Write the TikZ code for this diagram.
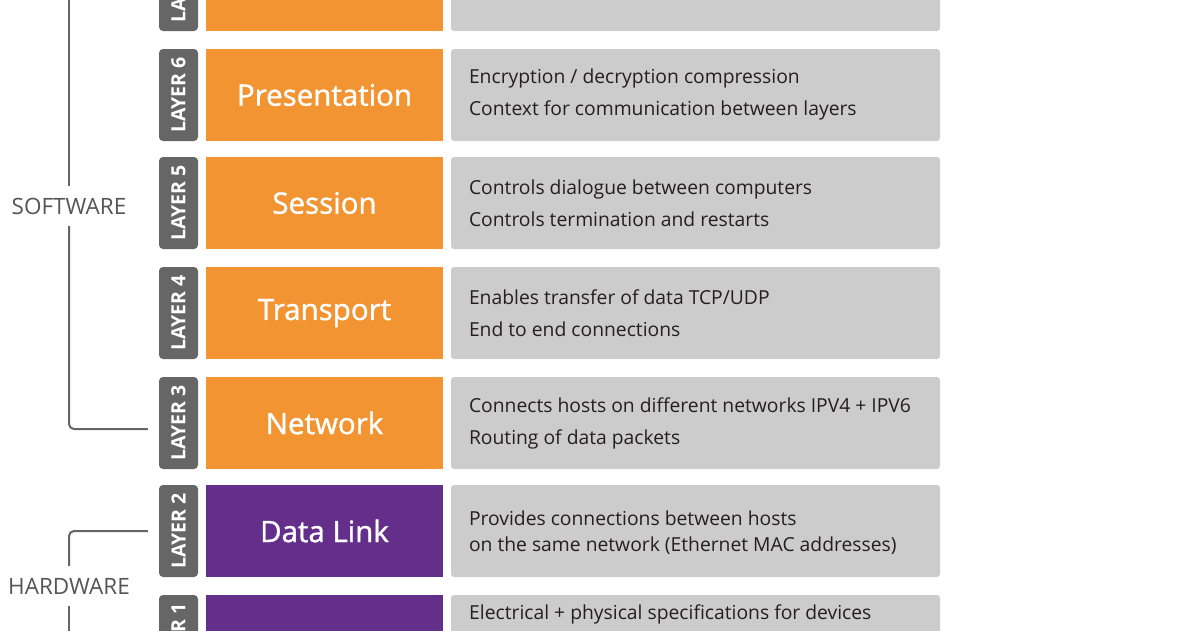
\documentclass[tikz,border=0pt]{standalone}
\usepackage{fontspec}
\setmainfont{Open Sans}
\newfontfamily\namefont{Open Sans}[FakeBold=1.2]
\definecolor{tabgray}{HTML}{666666}
\definecolor{boxgray}{HTML}{CCCCCC}
\definecolor{osiorange}{HTML}{F39433}
\definecolor{osipurple}{HTML}{642F8A}
\definecolor{desctext}{HTML}{231F20}
\definecolor{sidetext}{HTML}{555555}

\tikzset{
    layertab/.style={fill=tabgray, rounded corners=4pt, minimum width=39pt, minimum height=92pt,
        inner sep=0pt, text=white, font=\fontsize{19.5}{20}\selectfont\bfseries},
    softbox/.style={fill=osiorange, minimum width=237pt, minimum height=92pt, inner sep=0pt,
        text=white, font=\namefont\fontsize{29.5}{30}\selectfont},
    hardbox/.style={softbox, fill=osipurple},
    descbox/.style={fill=boxgray, rounded corners=3pt, minimum width=489pt, minimum height=92pt, inner sep=0pt},
    desctxt/.style={anchor=west, align=left, inner sep=0pt, text=desctext,
        font=\fontsize{19.3}{32}\selectfont},
    sidelabel/.style={text=sidetext, font=\fontsize{22.5}{22}\selectfont, text height=16pt, text depth=0pt,
        inner xsep=2pt, inner ysep=12pt},
    bracket/.style={draw=tabgray, line width=2pt, rounded corners=5pt}
}

\begin{document}
\begin{tikzpicture}[x=1pt, y=-1pt]
            \useasboundingbox (0,0) rectangle (1200,630);
            \clip (0,0) rectangle (1200,630);

            % 1. Layer tabs (rotated labels)
            \node[layertab] (t7) at (178.5,-15) {\rotatebox{90}{LAYER 7}};
            \node[layertab] (t6) at (178.5,95) {\rotatebox{90}{LAYER 6}};
            \node[layertab] (t5) at (178.5,203) {\rotatebox{90}{LAYER 5}};
            \node[layertab] (t4) at (178.5,313) {\rotatebox{90}{LAYER 4}};
            \node[layertab] (t3) at (178.5,423) {\rotatebox{90}{LAYER 3}};
            \node[layertab] (t2) at (178.5,531) {\rotatebox{90}{LAYER 2}};
            \node[layertab] (t1) at (178.5,641) {\rotatebox{90}{LAYER 1}};

            % 2. Layer names
            \node[softbox] (n7) at (324.5,-15) {Application};
            \node[softbox] (n6) at (324.5,95) {Presentation};
            \node[softbox] (n5) at (324.5,203) {Session};
            \node[softbox] (n4) at (324.5,313) {Transport};
            \node[softbox] (n3) at (324.5,423) {Network};
            \node[hardbox] (n2) at (324.5,531) {Data Link};
            \node[hardbox] (n1) at (324.5,641) {};

            % 3. Description panels
            \node[descbox] (d7) at (695.5,-15) {};
            \node[descbox] (d6) at (695.5,95) {};
            \node[descbox] (d5) at (695.5,203) {};
            \node[descbox] (d4) at (695.5,313) {};
            \node[descbox] (d3) at (695.5,423) {};
            \node[descbox] (d2) at (695.5,531) {};
            \node[descbox] (d1) at (695.5,641) {};

            % 4. Description texts, 18pt in from the panel edge
            \node[desctxt] (x6) at ([xshift=18pt, yshift=1pt]d6.west) {Encryption / decryption compression\\Context for communication between layers};
            \node[desctxt] (x5) at ([xshift=18pt]d5.west) {Controls dialogue between computers\\Controls termination and restarts};
            \node[desctxt] (x4) at ([xshift=18pt]d4.west) {Enables transfer of data TCP/UDP\\End to end connections};
            \node[desctxt] (x3) at ([xshift=18pt]d3.west) {Connects hosts on different networks IPV4 + IPV6\\Routing of data packets};
            \node[desctxt, font=\fontsize{19.3}{26}\selectfont] (x2) at ([xshift=18pt, yshift=-2pt]d2.west) {Provides connections between hosts\\on the same network (Ethernet MAC addresses)};
            \node[desctxt] (x1) at (469,614) {Electrical + physical specifications for devices};

            % 5. Software / hardware brackets
            \node[sidelabel] (sw) at (69,206) {SOFTWARE};
            \node[sidelabel] (hw) at (69,586) {HARDWARE};
            \coordinate (swtop) at (69,-10);
            \coordinate (swend) at ([xshift=-11pt, yshift=-6pt]t3.west);
            \coordinate (hwend) at ([xshift=-11pt]t2.west);
            \coordinate (hwbot) at (69,640);

            \draw[bracket] (swtop) -- (sw.north);
            \draw[bracket] (sw.south) |- (swend);
            \draw[bracket] (hw.north) |- (hwend);
            \draw[bracket] (hw.south) -- (hwbot);

        \end{tikzpicture}
\end{document}
